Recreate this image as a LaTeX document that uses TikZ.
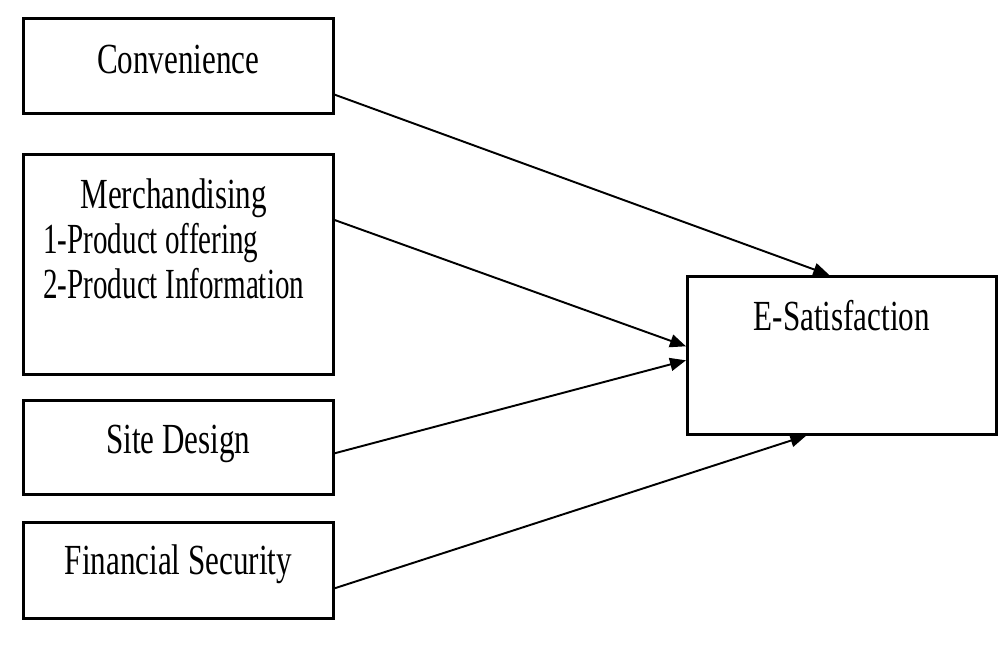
\documentclass[tikz,border=0pt]{standalone}
\usepackage{fontspec}
\setmainfont{Liberation Serif}
\usepackage{graphicx}
\usepackage{tikz}
\usetikzlibrary{arrows.meta}
\newcommand{\tall}[1]{\scalebox{1}[1.38]{#1}}
\newcommand{\tallitem}[1]{\scalebox{0.935}[1.38]{#1}}

\begin{document}
\begin{tikzpicture}[
  x=0.02cm, y=-0.02cm,
  font=\fontsize{17.7pt}{25.6pt}\selectfont,
  bx/.style={draw=black,line width=1.5pt,inner sep=0pt,anchor=north west,
             minimum width=6.2cm},
  ar/.style={draw=black,line width=1.1pt,-{Triangle[length=3.2mm,width=2.6mm]}}
]
\useasboundingbox (0,0) rectangle (1005,646);
% factors, left column
\node[bx,minimum height=1.9cm,text height=1.1cm,text depth=0.8cm] (conv) at (22,17) {\tall{Convenience}};
\node[bx,minimum height=4.4cm,text height=1.08cm,text depth=3.32cm] (merch) at (22,153)
  {\begin{tabular}[t]{@{}l@{\hspace{0.18cm}}}
     \multicolumn{1}{@{}c@{\hspace{0.18cm}}}{\tall{Merchandising}}\\
     \tallitem{1-Product offering}\\
     \tallitem{2-Product Information}
   \end{tabular}};
\node[bx,minimum height=1.88cm,text height=1.06cm,text depth=0.82cm] (site) at (22,399) {\tall{Site Design}};
\node[bx,minimum height=1.92cm,text height=1.04cm,text depth=0.88cm] (fin) at (22,521) {\tall{Financial Security}};
% outcome
\node[bx,minimum width=6.18cm,minimum height=3.16cm,text height=1.08cm,text depth=2.08cm] (esat) at (686,275) {\tall{E-Satisfaction}};

% paths
\draw[ar] ([yshift=0.4cm]conv.south east)    -- ([xshift=-0.25cm]esat.north);
\draw[ar] ([yshift=-1.34cm]merch.north east) -- ([yshift=0.18cm]esat.west);
\draw[ar] ([yshift=-0.12cm]site.east)        -- ([yshift=-0.1cm]esat.west);
\draw[ar] ([yshift=-0.36cm]fin.east)         -- ([xshift=-0.71cm]esat.south);
\end{tikzpicture}
\end{document}
